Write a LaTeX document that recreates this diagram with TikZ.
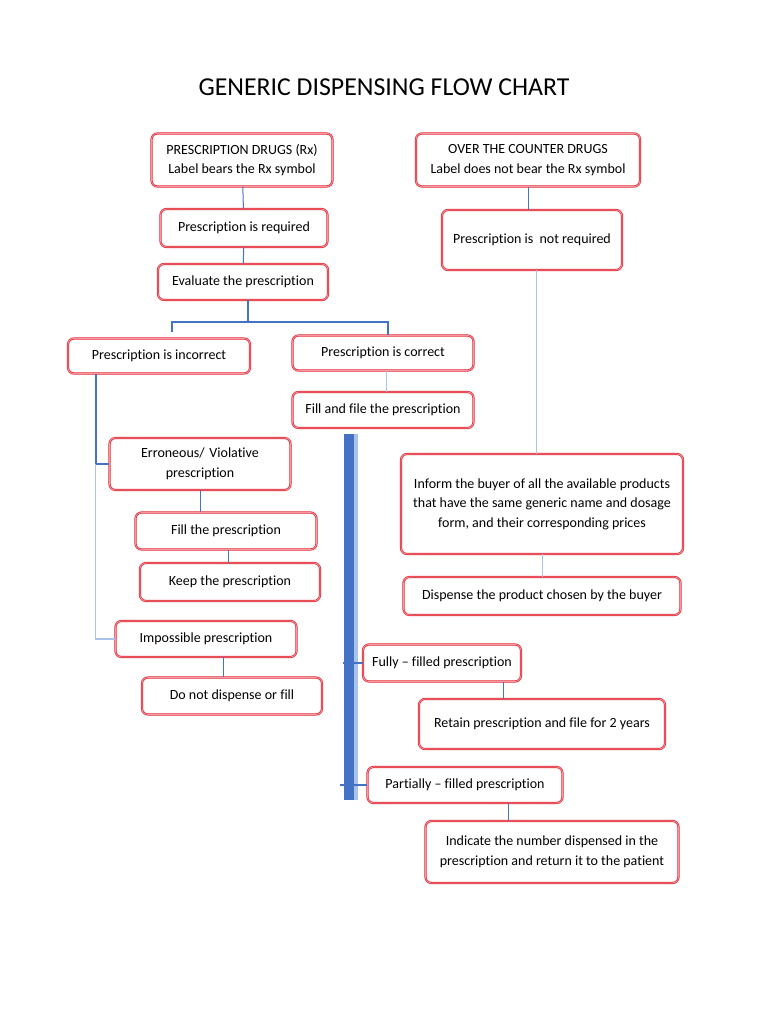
\documentclass[tikz,border=0pt]{standalone}
\usepackage{fontspec}
\setmainfont[Ligatures=NoCommon]{Carlito}
\usetikzlibrary{calc}

\definecolor{boxred}{RGB}{225,40,50}
\definecolor{boxpink}{RGB}{245,150,160}
\definecolor{linkblue}{RGB}{68,114,196}
\definecolor{paleblue}{RGB}{170,195,235}

\tikzset{
  box/.style={draw=boxred, double=boxpink, double distance=0.8pt, line width=0.7pt,
    rounded corners=6pt, fill=white, align=center, inner sep=2pt,
    font=\fontsize{14}{19.5}\selectfont},
  link/.style={draw=linkblue, line width=1pt},
  palelink/.style={draw=paleblue, line width=1pt},
  branch/.style={draw=linkblue, line width=2pt},
}

\begin{document}
\begin{tikzpicture}[x=1pt, y=-1pt]

  \useasboundingbox (0,0) rectangle (768,1024);

  \node (title) at (384,87) {\fontsize{25.8}{30}\selectfont GENERIC DISPENSING FLOW CHART};

  % left column
  \node[box, minimum width=181pt, minimum height=53pt] (rx) at (242,160)
    {PRESCRIPTION DRUGS (Rx)\\Label bears the Rx symbol};
  \node[box, minimum width=167pt, minimum height=38pt] (req) at (244,228) {Prescription is required};
  \node[box, minimum width=170pt, minimum height=36pt] (eval) at (243,282) {Evaluate the prescription};
  \node[box, minimum width=182pt, minimum height=35pt] (incorrect) at (159,356) {Prescription is incorrect};
  \node[box, minimum width=181pt, minimum height=35pt] (correct) at (383,353) {Prescription is correct};
  \node[box, minimum width=181pt, minimum height=36pt] (fillfile) at (383,410) {Fill and file the prescription};

  \node[box, minimum width=181pt, minimum height=52pt, text width=150pt] (erroneous) at (200,464)
    {Erroneous/ Violative\\prescription};
  \node[box, minimum width=181pt, minimum height=37pt] (fillrx) at (226,531) {Fill the prescription};
  \node[box, minimum width=180pt, minimum height=38pt] (keep) at (230,582) {Keep the prescription};
  \node[box, minimum width=181pt, minimum height=36pt] (impossible) at (206,639) {Impossible prescription};
  \node[box, minimum width=180pt, minimum height=37pt] (donot) at (232,696) {Do not dispense or fill};

  % right column
  \node[box, minimum width=224pt, minimum height=53pt] (otc) at (528,160)
    {OVER THE COUNTER DRUGS\\Label does not bear the Rx symbol};
  \node[box, minimum width=180pt, minimum height=60pt] (notreq) at (532,240) {Prescription is\ \ not required};
  \node[box, minimum width=282pt, minimum height=100pt] (inform) at (542,504)
    {Inform the buyer of all the available products\\that have the same generic name and dosage\\form, and their corresponding prices};
  \node[box, minimum width=277pt, minimum height=38pt] (dispense) at (542,596) {Dispense the product chosen by the buyer};

  \node[box, minimum width=158pt, minimum height=37pt] (fully) at (442,663) {Fully -- filled prescription};
  \node[box, minimum width=246pt, minimum height=50pt] (retain) at (542,724) {Retain prescription and file for 2 years};
  \node[box, minimum width=195pt, minimum height=36pt] (partially) at (465,785) {Partially -- filled prescription};
  \node[box, minimum width=253pt, minimum height=62pt] (indicate) at (552,852)
    {Indicate the number dispensed in the\\prescription and return it to the patient};

  % connectors
  \draw[link] (rx) -- (req);
  \draw[link] (req) -- (eval);
  \draw[link] (otc) -- (otc |- notreq.north);

  \coordinate (split) at ([xshift=5pt,yshift=-22pt]eval.south);
  \draw[branch] ([xshift=5pt]eval.south) -- (split);
  \draw[branch] ([xshift=13pt,yshift=6pt]incorrect.north) |- (split)
    -| ([xshift=5pt]correct.north);

  \draw[palelink] ([xshift=3pt]correct.south) -- ([xshift=3pt]fillfile.north);
  \draw[palelink] ([xshift=4pt]notreq.south) -- ([xshift=4pt]notreq.south |- inform.north);
  \draw[palelink] (inform) -- (dispense);

  \coordinate (rail) at ([xshift=28pt]incorrect.south west);
  \draw[branch] (rail) -- (rail |- erroneous.west);
  \draw[palelink, line width=1.5pt] (rail |- erroneous.west) |- (impossible.west);
  \draw[branch] (erroneous.west) -- (erroneous.west -| rail);
  \draw[link] (erroneous) -- (erroneous |- fillrx.north);
  \draw[link] ([xshift=2pt]fillrx.south) -- ([xshift=2pt]fillrx.south |- keep.north);
  \draw[link] ([xshift=17pt]impossible.south) -- ([xshift=17pt]impossible.south |- donot.north);

  % thick rail of the correct branch
  \coordinate (bartop) at (349,434);
  \coordinate (barbot) at (349,800);
  \draw[paleblue, line width=5pt] ([xshift=6pt]bartop) -- ([xshift=6pt]barbot);
  \draw[linkblue, line width=10pt] (bartop) -- (barbot);
  \draw[branch] (fully.west) -- ([xshift=-6pt]fully.west -| bartop);
  \draw[branch] (partially.west) -- ([xshift=-9pt]partially.west -| bartop);
  \draw[link] ([xshift=61pt]fully.south) -- ([xshift=61pt]fully.south |- retain.north);
  \draw[link] ([xshift=43pt]partially.south) -- ([xshift=43pt]partially.south |- indicate.north);

\end{tikzpicture}
\end{document}
